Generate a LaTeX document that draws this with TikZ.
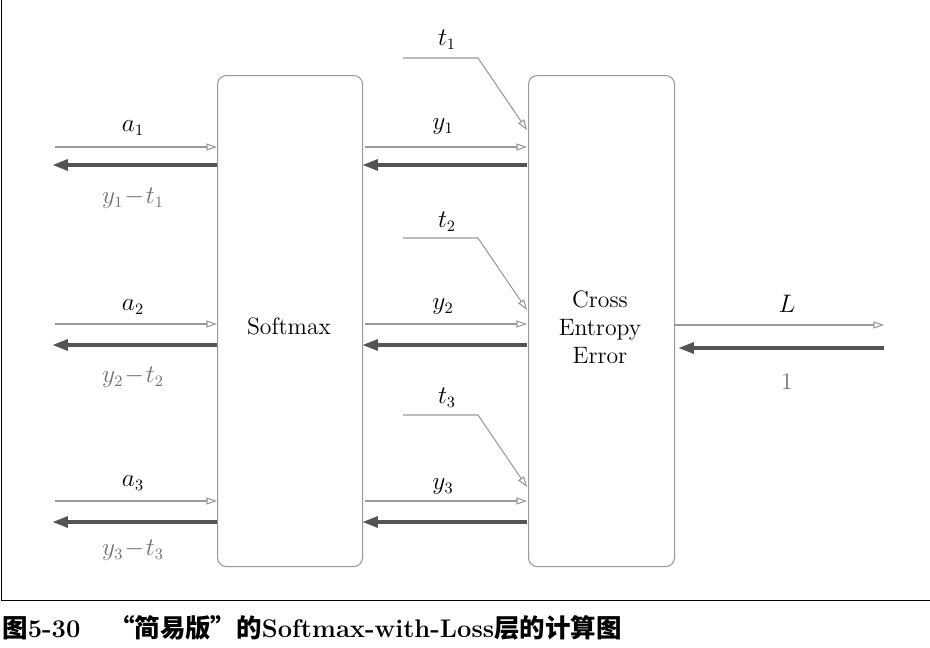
\documentclass[tikz,border=0pt]{standalone}
\usepackage{fontspec}
\newfontfamily\cjk{Noto Sans CJK SC}
\usetikzlibrary{arrows.meta}
\definecolor{thin}{gray}{0.6}
\definecolor{thick}{gray}{0.33}
\definecolor{lab}{gray}{0.45}
\begin{document}
\begin{tikzpicture}[x=0.02cm,y=-0.02cm,
  box/.style={draw=thin,rounded corners=5pt,line width=0.6pt},
  fwd/.style={draw=thin,line width=0.6pt,-{Triangle[open,length=6pt,width=4pt]}},
  bwd/.style={draw=thick,line width=2.2pt,-{Triangle[length=9pt,width=6pt]}},
  tl/.style={draw=thin,line width=0.6pt,-{Triangle[open,length=6pt,width=4pt]}},
  lb/.style={font=\fontsize{13.5}{16}\selectfont},
  gl/.style={font=\fontsize{13.5}{16}\selectfont,text=lab}]
\useasboundingbox (0,0) rectangle (930,647);
\draw[line width=0.5pt] (1,0) -- (1,600) -- (930,600);
\node[box,minimum width=145*0.02cm,minimum height=491*0.02cm,anchor=north west] (sm) at (217,75) {};
\node[box,minimum width=146*0.02cm,minimum height=491*0.02cm,anchor=north west] (ce) at (528,75) {};
\node[lb] (smt) at (289,326) {Softmax};
\node[lb,align=center] (cet) at (600,327) {Cross\\Entropy\\Error};
\foreach \i/\yf/\yb/\ya/\yg/\yy/\yt/\ylt in {1/147/165/128/198/127/58/40, 2/324/345/307/377/307/238/222, 3/501/522/483/550/487/415/398}{
  \coordinate (la\i) at (55,\yf);
  \coordinate (ra\i) at (217,\yf);
  \coordinate (lb\i) at (217,\yb);
  \coordinate (rb\i) at (52,\yb);
  \draw[fwd] (la\i) -- (ra\i);
  \draw[bwd] (lb\i) -- (rb\i);
  \node[lb] (a\i) at (133,\ya) {$a_{\i}$};
  \node[gl] (g\i) at (133,\yg) {$y_{\i}\!-\!t_{\i}$};
  \coordinate (my\i) at (365,\yf);
  \coordinate (cy\i) at (527,\yf);
  \coordinate (cb\i) at (527,\yb);
  \coordinate (mb\i) at (362,\yb);
  \draw[fwd] (my\i) -- (cy\i);
  \draw[bwd] (cb\i) -- (mb\i);
  \node[lb] (y\i) at (443,\yy) {$y_{\i}$};
  \coordinate (ts\i) at (403,\yt);
  \coordinate (tk\i) at (478,\yt);
  \coordinate (te\i) at (527,\yt+72);
  \draw[tl] (ts\i) -- (tk\i) -- (te\i);
  \node[lb] (t\i) at (447,\ylt) {$t_{\i}$};
}
\coordinate (l0) at (674,325);
\coordinate (l1) at (884,325);
\draw[fwd] (l0) -- (l1);
\coordinate (o0) at (884,348);
\coordinate (o1) at (678,348);
\draw[bwd] (o0) -- (o1);
\node[lb] (L) at (787,304) {$L$};
\node[gl] (one) at (787,382) {1};
\node[anchor=west,font=\fontsize{14.5}{17}\selectfont\bfseries,inner sep=0pt] (cap) at (2,628) {{\cjk 图}5-30\ \ \ {\cjk “简易版”的}Softmax-with-Loss{\cjk 层的计算图}};
\end{tikzpicture}
\end{document}
